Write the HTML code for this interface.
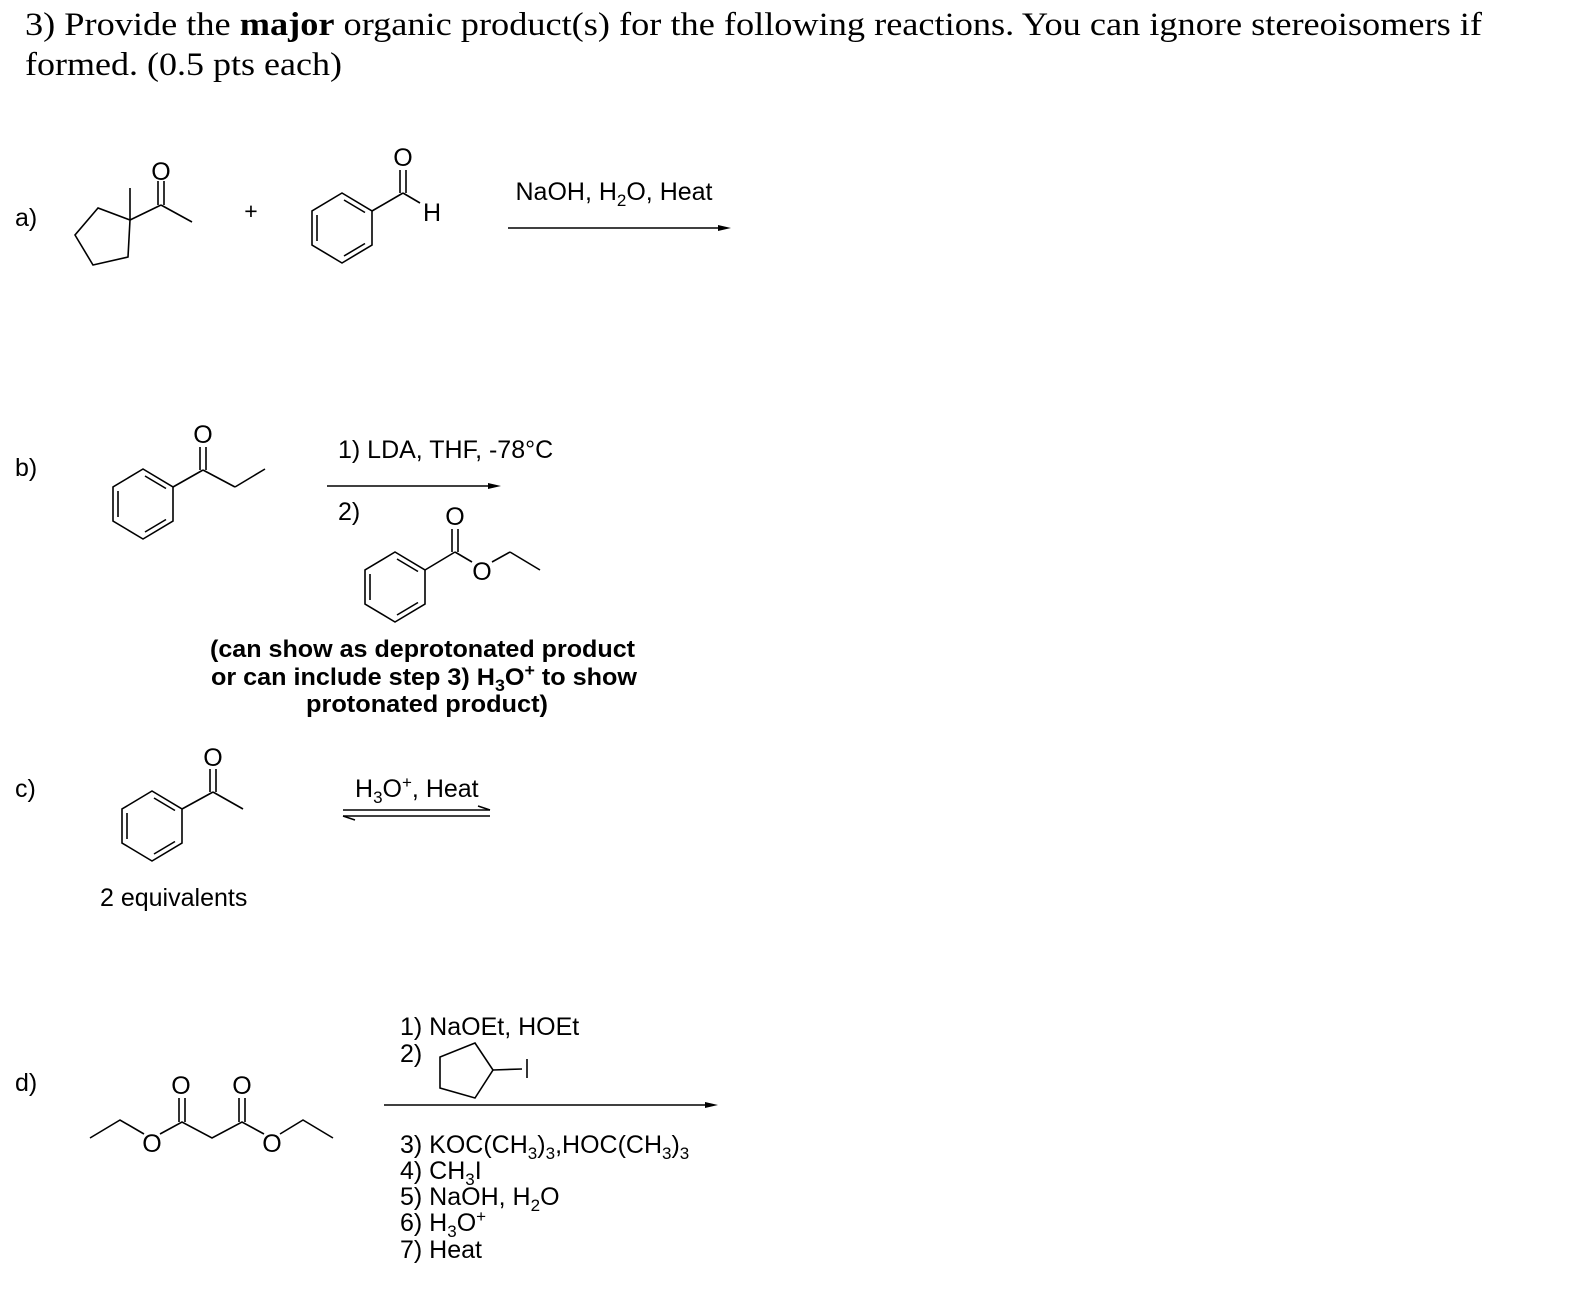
<!DOCTYPE html>
<html><head><meta charset="utf-8"><style>
html,body{margin:0;padding:0;background:#fff;}
svg{display:block;}
.s{font-family:"Liberation Sans",sans-serif;font-size:25px;fill:#000;}
.t{font-family:"Liberation Serif",serif;font-size:33px;fill:#000;}
.b{font-family:"Liberation Sans",sans-serif;font-size:24px;font-weight:bold;fill:#000;}
line,polyline{stroke:#000;stroke-width:1.6;fill:none;}
</style></head><body>
<svg width="1594" height="1310" viewBox="0 0 1594 1310" xmlns="http://www.w3.org/2000/svg">
<defs>
<g id="bz">
<polygon points="0,-35 30,-17 30,17 0,35 -30,17 -30,-17" style="stroke:#000;stroke-width:1.6;fill:none"/>
<line x1="-25" y1="-13" x2="-25" y2="13"/>
<line x1="2" y1="-28" x2="23" y2="-15.5"/>
<line x1="2" y1="28" x2="23" y2="15.5"/>
</g>
</defs>

<text class="t" x="25" y="35" textLength="1457" lengthAdjust="spacingAndGlyphs">3) Provide the <tspan font-weight="bold">major</tspan> organic product(s) for the following reactions. You can ignore stereoisomers if</text>
<text class="t" x="25" y="75" textLength="317" lengthAdjust="spacingAndGlyphs">formed. (0.5 pts each)</text>

<!-- a -->
<text class="s" x="15" y="226">a)</text>
<polygon points="98,208 75,235 93,265 128,257 130,220" style="stroke:#000;stroke-width:1.6;fill:none"/>
<line x1="130" y1="220" x2="130" y2="188"/>
<line x1="130" y1="220" x2="161" y2="205"/>
<line x1="161" y1="205" x2="192" y2="222"/>
<line x1="158" y1="205" x2="158" y2="181"/>
<line x1="164" y1="205" x2="164" y2="181"/>
<text class="s" x="161" y="180" text-anchor="middle">O</text>
<text class="s" x="251" y="219" text-anchor="middle" style="font-size:23px">+</text>
<use href="#bz" x="342" y="228"/>
<line x1="372" y1="211" x2="403" y2="193"/>
<line x1="400" y1="193" x2="400" y2="170"/>
<line x1="406" y1="193" x2="406" y2="170"/>
<line x1="403" y1="193" x2="420" y2="203"/>
<text class="s" x="403" y="166" text-anchor="middle">O</text>
<text class="s" x="432" y="221" text-anchor="middle">H</text>
<text class="s" x="614" y="200" text-anchor="middle">NaOH, H<tspan font-size="17" dy="6">2</tspan><tspan dy="-6">O, Heat</tspan></text>
<line x1="508" y1="228" x2="722" y2="228"/>
<polygon points="731,228 718,225 718,231" fill="#000"/>

<!-- b -->
<text class="s" x="15" y="476">b)</text>
<use href="#bz" x="143" y="504"/>
<line x1="173" y1="487" x2="203" y2="470"/>
<line x1="200" y1="470" x2="200" y2="447"/>
<line x1="206" y1="470" x2="206" y2="447"/>
<line x1="203" y1="470" x2="235" y2="487"/>
<line x1="235" y1="487" x2="265" y2="469"/>
<text class="s" x="203" y="443" text-anchor="middle">O</text>
<text class="s" x="338" y="458">1) LDA, THF, -78°C</text>
<line x1="327" y1="486" x2="492" y2="486"/>
<polygon points="501,486 488,483 488,489" fill="#000"/>
<text class="s" x="338" y="520">2)</text>
<use href="#bz" x="395" y="587"/>
<line x1="425" y1="570" x2="455" y2="552"/>
<line x1="452" y1="552" x2="452" y2="529"/>
<line x1="458" y1="552" x2="458" y2="529"/>
<text class="s" x="455" y="525" text-anchor="middle">O</text>
<line x1="455" y1="552" x2="472" y2="562"/>
<text class="s" x="482" y="580" text-anchor="middle">O</text>
<line x1="492" y1="562" x2="510" y2="552"/>
<line x1="510" y1="552" x2="540" y2="570"/>
<text class="b" x="210" y="657" textLength="425" lengthAdjust="spacingAndGlyphs">(can show as deprotonated product</text>
<text class="b" x="211" y="685" textLength="426" lengthAdjust="spacingAndGlyphs">or can include step 3) H<tspan font-size="17" dy="6">3</tspan><tspan dy="-6">O</tspan><tspan font-size="17" dy="-9">+</tspan><tspan dy="9"> to show</tspan></text>
<text class="b" x="306" y="712" textLength="242" lengthAdjust="spacingAndGlyphs">protonated product)</text>

<!-- c -->
<text class="s" x="15" y="797">c)</text>
<use href="#bz" x="152" y="826"/>
<line x1="182" y1="809" x2="213" y2="792"/>
<line x1="210" y1="792" x2="210" y2="769"/>
<line x1="216" y1="792" x2="216" y2="769"/>
<line x1="213" y1="792" x2="243" y2="809"/>
<text class="s" x="213" y="766" text-anchor="middle">O</text>
<text class="s" x="355" y="797">H<tspan font-size="17" dy="6">3</tspan><tspan dy="-6">O</tspan><tspan font-size="17" dy="-9">+</tspan><tspan dy="9">, Heat</tspan></text>
<line x1="343" y1="810" x2="490" y2="810"/>
<polyline points="490,810 478,806" />
<line x1="343" y1="816" x2="490" y2="816"/>
<polyline points="343,816 355,820" />
<text class="s" x="100" y="906">2 equivalents</text>

<!-- d -->
<text class="s" x="15" y="1091">d)</text>
<polyline points="90,1138 120,1120 144,1134"/>
<text class="s" x="152" y="1152" text-anchor="middle">O</text>
<polyline points="160,1134 182,1122 212,1138 242,1122 264,1134"/>
<line x1="179" y1="1122" x2="179" y2="1098"/>
<line x1="185" y1="1122" x2="185" y2="1098"/>
<line x1="239" y1="1122" x2="239" y2="1098"/>
<line x1="245" y1="1122" x2="245" y2="1098"/>
<text class="s" x="181" y="1094" text-anchor="middle">O</text>
<text class="s" x="242" y="1094" text-anchor="middle">O</text>
<text class="s" x="272" y="1152" text-anchor="middle">O</text>
<polyline points="280,1134 303,1120 333,1138"/>

<text class="s" x="400" y="1035">1) NaOEt, HOEt</text>
<text class="s" x="400" y="1062">2)</text>
<polygon points="475,1043 440,1057 440,1088 475,1098 493,1070" style="stroke:#000;stroke-width:1.6;fill:none"/>
<line x1="493" y1="1070" x2="522" y2="1069"/>
<line x1="527" y1="1059" x2="527" y2="1078"/>
<line x1="384" y1="1105" x2="709" y2="1105"/>
<polygon points="718,1105 705,1102 705,1108" fill="#000"/>
<text class="s" x="400" y="1153">3) KOC(CH<tspan font-size="17" dy="6">3</tspan><tspan dy="-6">)</tspan><tspan font-size="17" dy="6">3</tspan><tspan dy="-6">,HOC(CH</tspan><tspan font-size="17" dy="6">3</tspan><tspan dy="-6">)</tspan><tspan font-size="17" dy="6">3</tspan></text>
<text class="s" x="400" y="1179">4) CH<tspan font-size="17" dy="6">3</tspan><tspan dy="-6">I</tspan></text>
<text class="s" x="400" y="1205">5) NaOH, H<tspan font-size="17" dy="6">2</tspan><tspan dy="-6">O</tspan></text>
<text class="s" x="400" y="1231">6) H<tspan font-size="17" dy="6">3</tspan><tspan dy="-6">O</tspan><tspan font-size="17" dy="-9">+</tspan></text>
<text class="s" x="400" y="1258">7) Heat</text>
</svg>
</body></html>
